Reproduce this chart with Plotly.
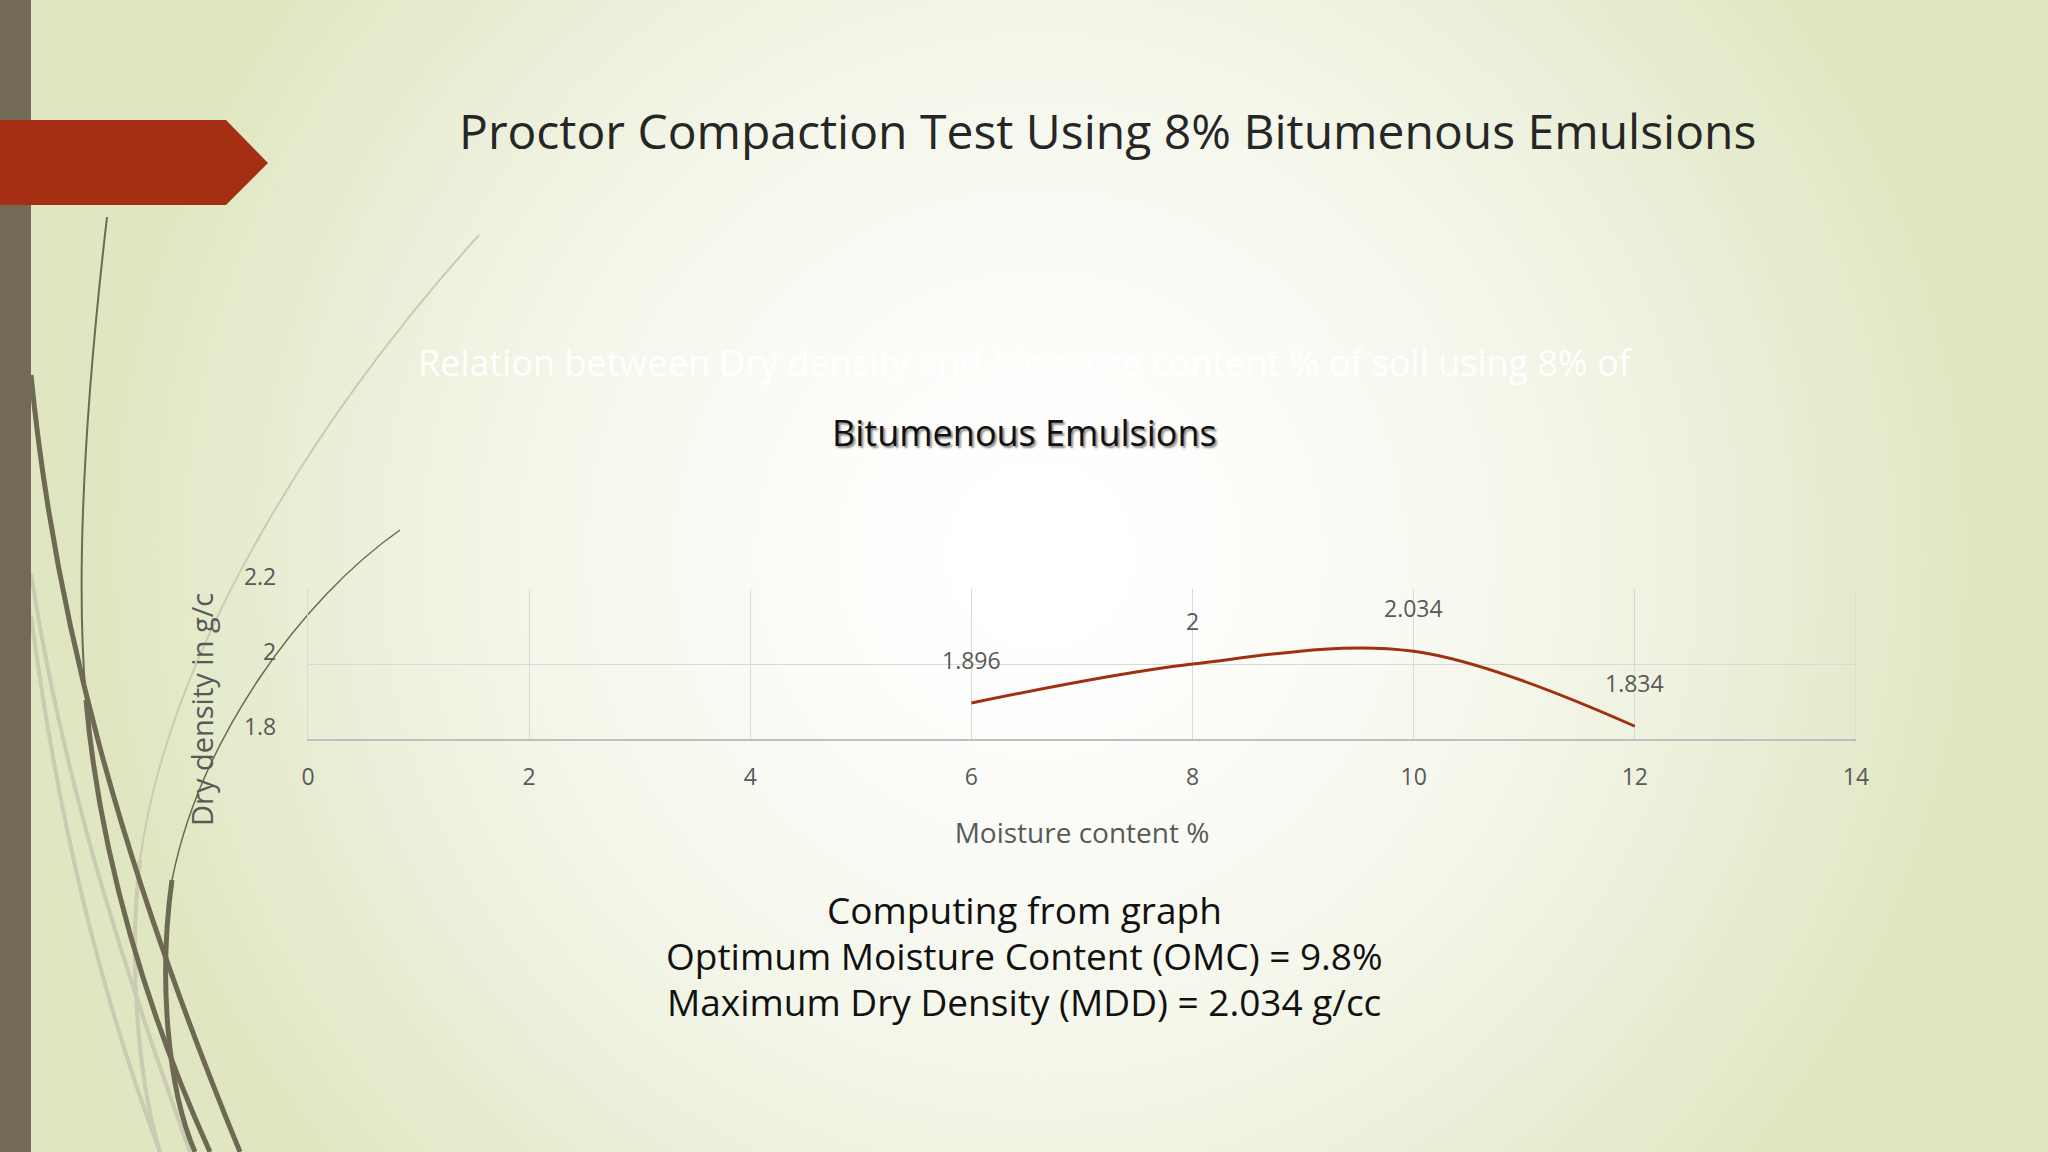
import plotly.graph_objects as go

# Data
moisture = [6, 8, 10, 12]
dry_density = [1.896, 2.0, 2.034, 1.834]
point_labels = ["1.896", "2", "2.034", "1.834"]
x_ticks = [0, 2, 4, 6, 8, 10, 12, 14]
y_ticks = [1.8, 2.0, 2.2]
y_tick_text = ["1.8", "2", "2.2"]

slide_title = "Proctor Compaction Test Using 8% Bitumenous Emulsions"
chart_title_1 = "Relation between Dry density and Moisture content % of soil using 8% of"
chart_title_2 = "Bitumenous Emulsions"
summary_lines = [
    "Computing from graph",
    "Optimum Moisture Content (OMC) = 9.8%",
    "Maximum Dry Density (MDD) = 2.034 g/cc",
]

W, H = 2048, 1152
FONT = "Open Sans"
TXT = "#595959"
BG = (223, 230, 193)


def px(x):
    return x / W


def py(y):
    return 1 - y / H


def path(cmds):
    # cmds: list of (letter, [x, y, x, y, ...]) in pixel units
    out = []
    for letter, pts in cmds:
        pairs = ["%.5f,%.5f" % (px(pts[i]), py(pts[i + 1])) for i in range(0, len(pts), 2)]
        out.append(letter + " " + " ".join(pairs))
    return " ".join(out)


shapes = []

# soft radial glow: opaque rings, each tinted between the slide green and white
cx, cy, R, n_rings = 1040, 555, 940, 70
for k in range(n_rings, 0, -1):
    r = R * k / n_rings
    t = 1 - ((k - 0.5) / n_rings) ** 1.66
    col = "rgb(%d,%d,%d)" % tuple(round(c + (255 - c) * t) for c in BG)
    shapes.append(dict(
        type="circle", xref="paper", yref="paper", layer="below",
        x0=px(cx - r), x1=px(cx + r), y0=py(cy + r), y1=py(cy - r),
        fillcolor=col, line=dict(width=0),
    ))

DARK = "#6e6953"
LIGHT = "#c9ccb2"

swooshes = [
    # light long sweep
    ([("M", [479, 235]), ("C", [330, 400, 170, 640, 140, 860])], LIGHT, 2),
    ([("M", [140, 860]), ("C", [128, 960, 138, 1080, 160, 1152])], LIGHT, 4),
    # light strands off the bar
    ([("M", [31, 574]), ("C", [60, 760, 110, 930, 190, 1152])], LIGHT, 4),
    ([("M", [31, 615]), ("C", [55, 800, 95, 980, 160, 1152])], LIGHT, 4),
    # dark strands
    ([("M", [107, 217]), ("C", [88, 380, 74, 560, 86, 700])], DARK, 2),
    ([("M", [86, 700]), ("C", [100, 860, 150, 1020, 210, 1152])], DARK, 5),
    ([("M", [31, 375]), ("C", [55, 620, 120, 860, 240, 1152])], DARK, 5),
    ([("M", [400, 530]), ("C", [300, 600, 200, 740, 172, 880])], DARK, 1.5),
    ([("M", [172, 880]), ("C", [158, 980, 168, 1090, 195, 1152])], DARK, 5),
]
for cmds, col, w in swooshes:
    shapes.append(dict(type="path", xref="paper", yref="paper", layer="below",
                       path=path(cmds), line=dict(color=col, width=w)))

# vertical bar and red tag
shapes.append(dict(type="rect", xref="paper", yref="paper", layer="below",
                   x0=px(0), x1=px(31), y0=py(H), y1=py(0),
                   fillcolor="#736a56", line=dict(width=0)))
shapes.append(dict(type="path", xref="paper", yref="paper", layer="below",
                   path=path([("M", [0, 120]), ("L", [226, 120]), ("L", [268, 163]),
                              ("L", [226, 205]), ("L", [0, 205])]) + " Z",
                   fillcolor="#a52f12", line=dict(width=0)))

fig = go.Figure()
fig.add_trace(go.Scatter(
    x=moisture, y=dry_density, mode="lines",
    line=dict(color="#a0300f", width=3, shape="spline", smoothing=1.0),
    hoverinfo="x+y", showlegend=False,
))

annotations = [
    dict(text=slide_title, x=px(1107), y=py(130), font=dict(size=48, color="#262626")),
    dict(text=chart_title_1, x=px(1025), y=py(362), font=dict(size=36, color="white")),
    dict(text=chart_title_2, x=px(1024), y=py(432),
         font=dict(size=36, color="#111111", shadow="2px 2px 2px #8a8a8a")),
    dict(text="Dry density in g/c", x=px(201), y=py(710), textangle=-90,
         font=dict(size=29, color=TXT)),
]
for i, line in enumerate(summary_lines):
    annotations.append(dict(text=line, x=px(1024), y=py(909 + 46 * i),
                            font=dict(size=37, color="#111111")))
for a in annotations:
    a.update(xref="paper", yref="paper", showarrow=False, xanchor="center", yanchor="middle")
    a["font"]["family"] = FONT

for xv, yv, lab in zip(moisture, dry_density, point_labels):
    annotations.append(dict(
        text=lab, x=xv, y=yv, xref="x", yref="y", showarrow=False, yshift=43,
        xanchor="center", yanchor="middle", font=dict(family=FONT, size=23, color=TXT),
    ))

fig.update_layout(
    width=W, height=H, autosize=False,
    margin=dict(l=0, r=0, t=0, b=0, pad=0),
    paper_bgcolor="rgb(%d,%d,%d)" % BG,
    plot_bgcolor="rgba(0,0,0,0)",
    font=dict(family=FONT, color=TXT),
    shapes=shapes,
    annotations=annotations,
    xaxis=dict(
        domain=[px(308), px(1856)], range=[0, 14], tickvals=x_ticks,
        showgrid=True, gridcolor="#d9d9d9", gridwidth=1.3, zeroline=False,
        showline=True, linecolor="#bfbfbf", linewidth=1.5, ticks="",
        ticklabelstandoff=17, tickfont=dict(size=23, color=TXT),
        title=dict(text="Moisture content %", standoff=32, font=dict(size=28, color=TXT)),
        fixedrange=True, automargin=False,
    ),
    yaxis=dict(
        domain=[py(739), py(589)], range=[1.8, 2.2], tickvals=y_ticks, ticktext=y_tick_text,
        showgrid=True, gridcolor="#d9d9d9", gridwidth=1.3, zeroline=False,
        showline=True, linecolor="#d9d9d9", linewidth=1.3, ticks="",
        ticklabelstandoff=26, ticklabelshift=-12, tickfont=dict(size=23, color=TXT),
        fixedrange=True, automargin=False,
    ),
)
fig.add_shape(type="line", xref="x", yref="y", x0=14, x1=14, y0=1.8, y1=2.2,
              line=dict(color="#d9d9d9", width=1.3), layer="below")

fig.write_html(
    "out.html",
    config={"displayModeBar": False, "responsive": False},
    post_script="document.body.style.margin='0';document.body.style.overflow='hidden';",
)
